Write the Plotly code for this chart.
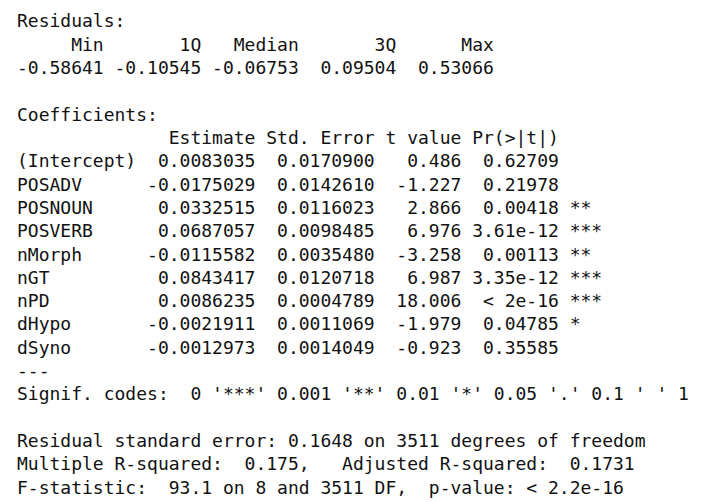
import plotly.graph_objects as go

res_labels = ["Min", "1Q", "Median", "3Q", "Max"]
res_values = ["-0.58641", "-0.10545", "-0.06753", "0.09504", "0.53066"]

terms = ["(Intercept)", "POSADV", "POSNOUN", "POSVERB", "nMorph", "nGT", "nPD", "dHypo", "dSyno"]
estimate = ["0.0083035", "-0.0175029", "0.0332515", "0.0687057", "-0.0115582",
            "0.0843417", "0.0086235", "-0.0021911", "-0.0012973"]
std_error = ["0.0170900", "0.0142610", "0.0116023", "0.0098485", "0.0035480",
             "0.0120718", "0.0004789", "0.0011069", "0.0014049"]
t_value = ["0.486", "-1.227", "2.866", "6.976", "-3.258", "6.987", "18.006", "-1.979", "-0.923"]
p_value = ["0.62709", "0.21978", "0.00418", "3.61e-12", "0.00113", "3.35e-12", "< 2e-16", "0.04785", "0.35585"]
stars = ["", "", "**", "***", "**", "***", "***", "*", ""]

# build the printed summary lines
lines = ["Residuals:"]
lines.append(" ".join(f"{l:>8}" for l in res_labels))
lines.append(" ".join(f"{v:>8}" for v in res_values))
lines.append("")
lines.append("Coefficients:")
lines.append(f"{'':<11} {'Estimate':>10} {'Std. Error':>10} {'t value':>7} {'Pr(>|t|)':>8}")
for i in range(len(terms)):
    lines.append(f"{terms[i]:<11} {estimate[i]:>10} {std_error[i]:>10} {t_value[i]:>7} {p_value[i]:>8} {stars[i]}".rstrip())
lines.append("---")
lines.append("Signif. codes:  0 '***' 0.001 '**' 0.01 '*' 0.05 '.' 0.1 ' ' 1")
lines.append("")
lines.append("Residual standard error: 0.1648 on 3511 degrees of freedom")
lines.append("Multiple R-squared:  0.175,   Adjusted R-squared:  0.1731")
lines.append("F-statistic:  93.1 on 8 and 3511 DF,  p-value: < 2.2e-16")

W, H = 703, 502
fig = go.Figure()
for i, line in enumerate(lines):
    if not line:
        continue
    fig.add_annotation(
        x=7 / W, y=1 - (13 + i * 23.3) / H, xref="paper", yref="paper",
        text=line.replace(" ", "\u00a0"), showarrow=False,
        xanchor="left", yanchor="middle",
        font=dict(family="DejaVu Sans Mono", size=18, color="#111111"),
    )

fig.update_layout(
    width=W, height=H, margin=dict(l=0, r=0, t=0, b=0),
    paper_bgcolor="white", plot_bgcolor="white",
    xaxis=dict(visible=False), yaxis=dict(visible=False),
)
fig.write_html("out.html")
